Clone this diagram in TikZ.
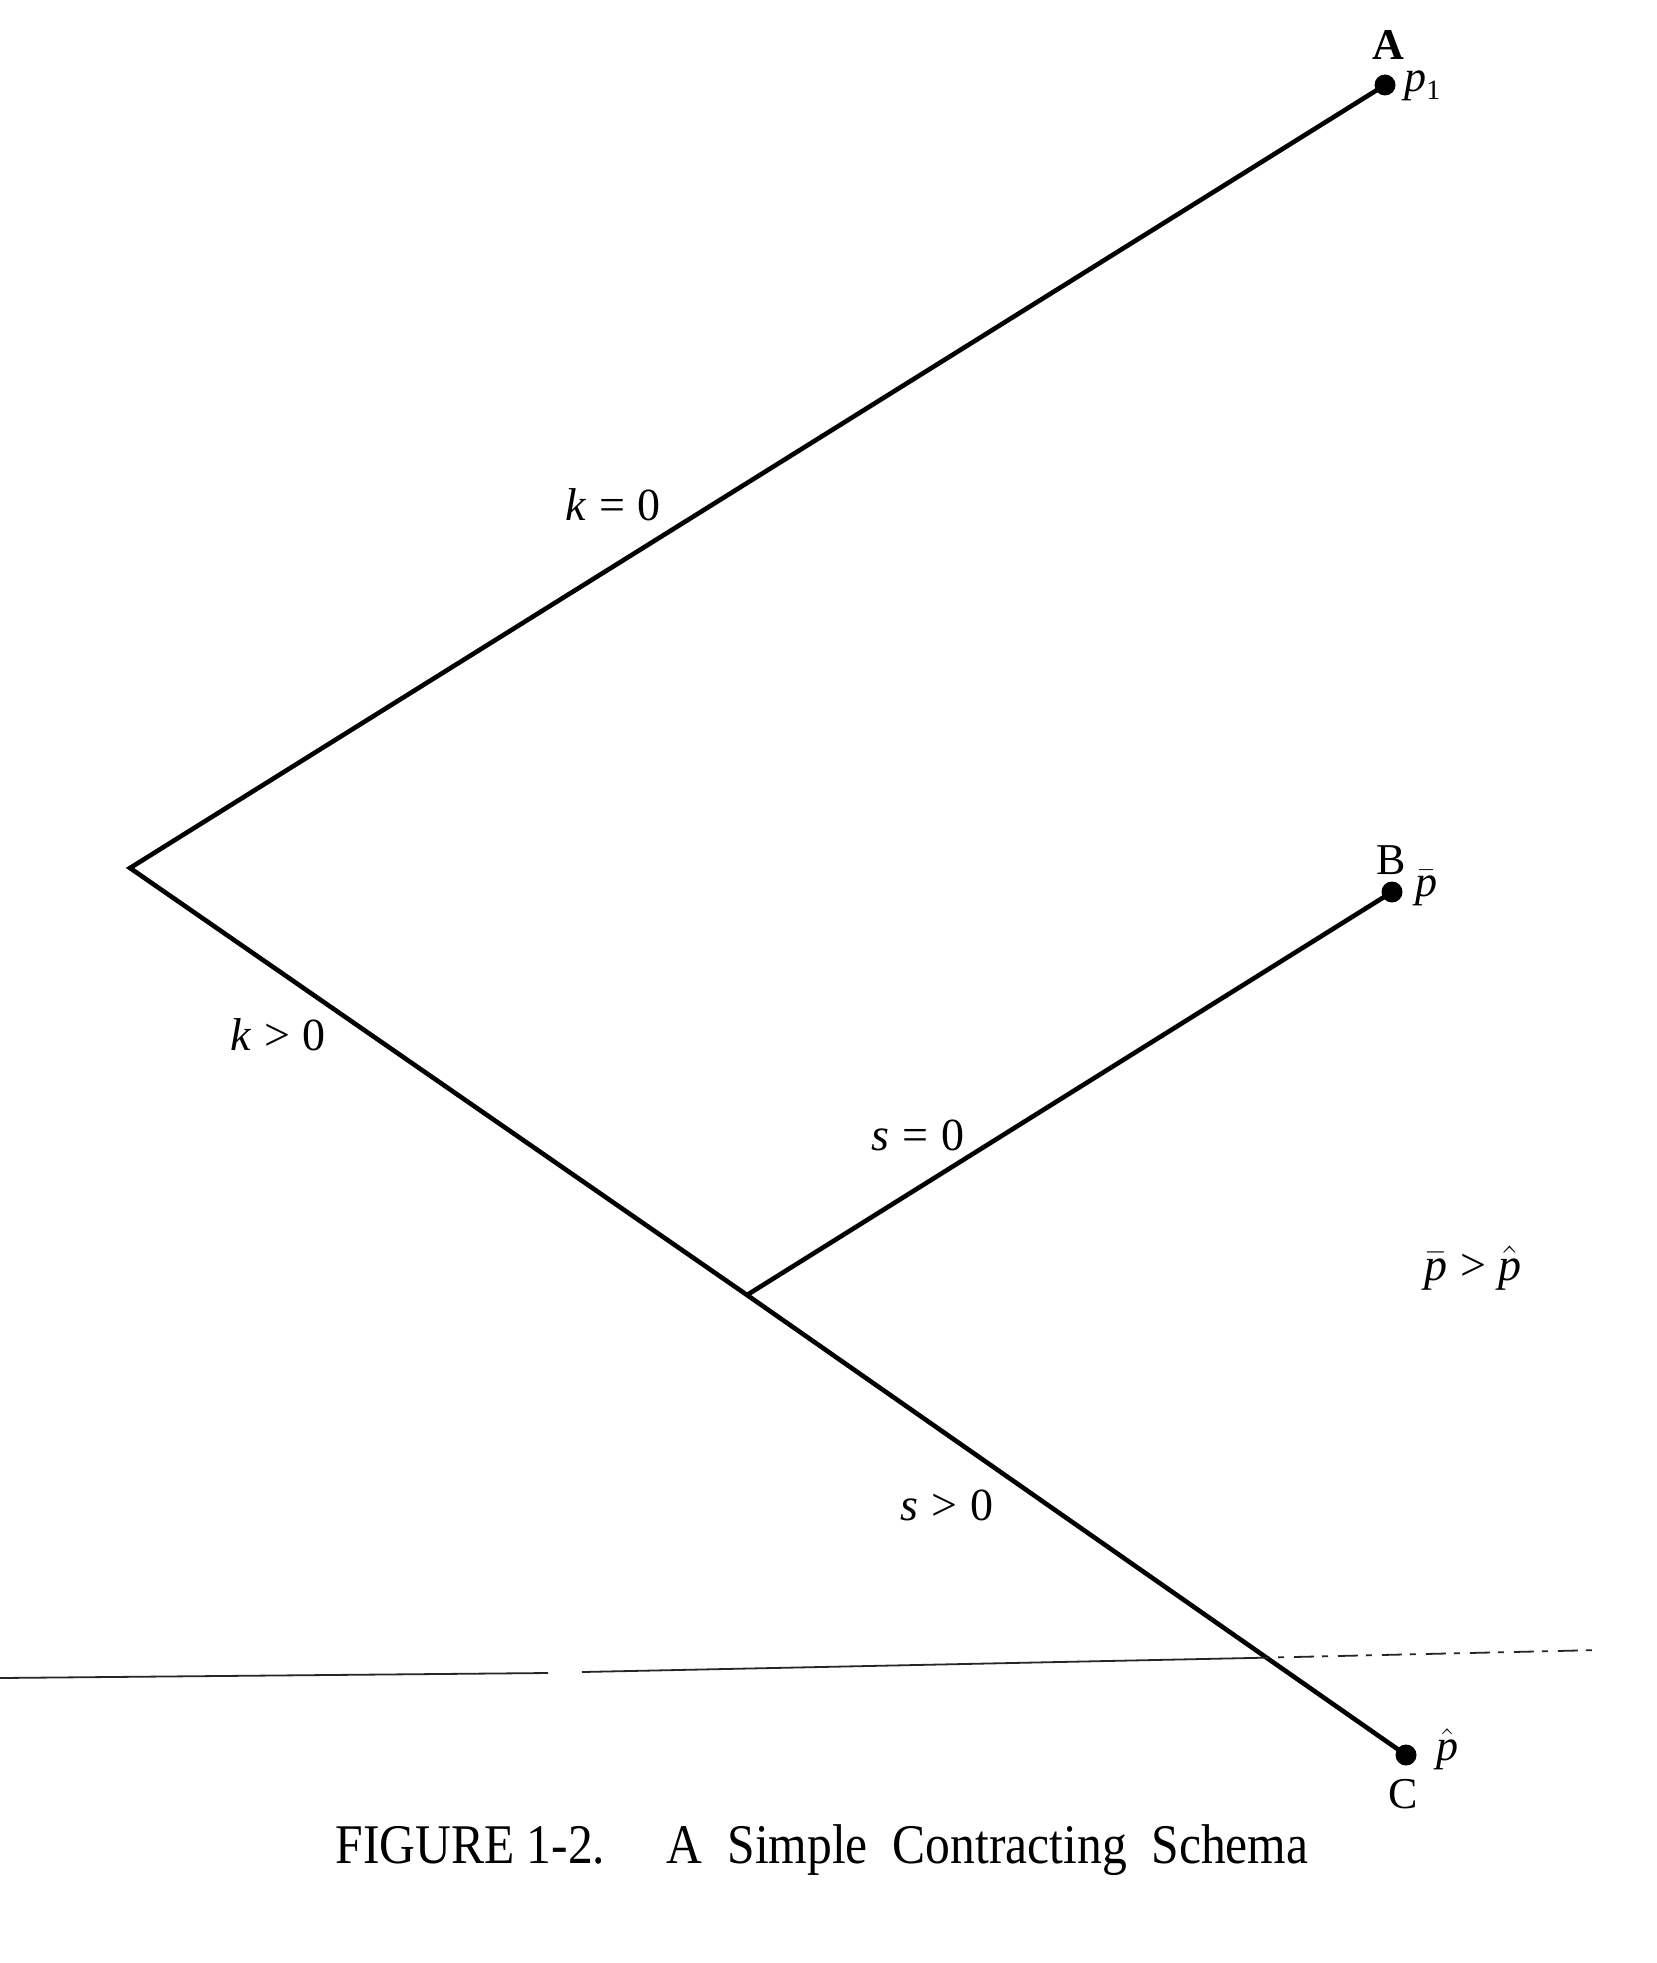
\documentclass[tikz,border=0pt]{standalone}
\usepackage{fontspec}
\setmainfont{Liberation Serif}
\newfontfamily\capfont[FakeStretch=0.885]{Liberation Serif}
\newcommand{\pv}{\textit{p}}
\begin{document}
\begin{tikzpicture}[x=0.5pt,y=-0.5pt,
  branch/.style={line width=2.3pt},
  dotnode/.style={circle,fill=black,inner sep=0pt,minimum size=10.5pt},
  lbl/.style={inner sep=0pt,font=\fontsize{23}{25}\selectfont},
  ptlbl/.style={inner sep=0pt,font=\fontsize{22}{24}\selectfont},
  edge/.style={line width=0.9pt,black!85}]
\useasboundingbox (0,0) rectangle (1657,1963);
\fill[white] (0,0) rectangle (1657,1963);
% junctions and end points
\coordinate (O) at (130,868);
\coordinate (J) at (747,1295);
\node[dotnode] (A) at (1385,85) {};
\node[dotnode] (B) at (1392,892) {};
\node[dotnode] (C) at (1406,1755) {};
% branches
\draw[branch,line join=miter] (A.center) -- (O) -- (J) -- (C.center);
\draw[branch] (J) -- (B.center);
% branch labels
\node[lbl] (lk0) at (613,505) {\textit{k}\;=\;0};
\node[lbl] (lkg) at (278,1035) {\textit{k}\;>\;0};
\node[lbl] (ls0) at (918,1135) {\textit{s}\;=\;0};
\node[lbl] (lsg) at (947,1505) {\textit{s}\;>\;0};
\node[lbl] (cmp) at (1473,1268) {$\bar{\pv}$\;>\;$\hat{\pv}$};
% point labels
\node[ptlbl,font=\fontsize{22}{24}\selectfont\bfseries] (Al) at (1388,45) {A};
\node[ptlbl,anchor=west] (Ap) at (1404,86) {\pv\raisebox{-4pt}{\fontsize{14}{16}\selectfont 1}};
\node[ptlbl] (Bl) at (1391,860) {B};
\node[ptlbl] (Bp) at (1426,888) {$\bar{\pv}$};
\node[ptlbl] (Cl) at (1403,1794) {C};
\node[ptlbl] (Cp) at (1447,1749) {$\hat{\pv}$};
% faint horizontal rule (scan edge)
\draw[edge] (0,1678) -- (548,1673);
\draw[edge] (582,1672) -- (1250,1658);
\draw[edge,dash pattern=on 10pt off 4pt on 3pt off 5pt] (1250,1658) -- (1600,1650);
% caption
\node[inner sep=0pt,font=\capfont\fontsize{28}{30}\selectfont] (cap) at (822,1850)
  {FIGURE\ 1-2.\hspace{1.1em}A\ \ Simple\ \ Contracting\ \ Schema};
\end{tikzpicture}
\end{document}
